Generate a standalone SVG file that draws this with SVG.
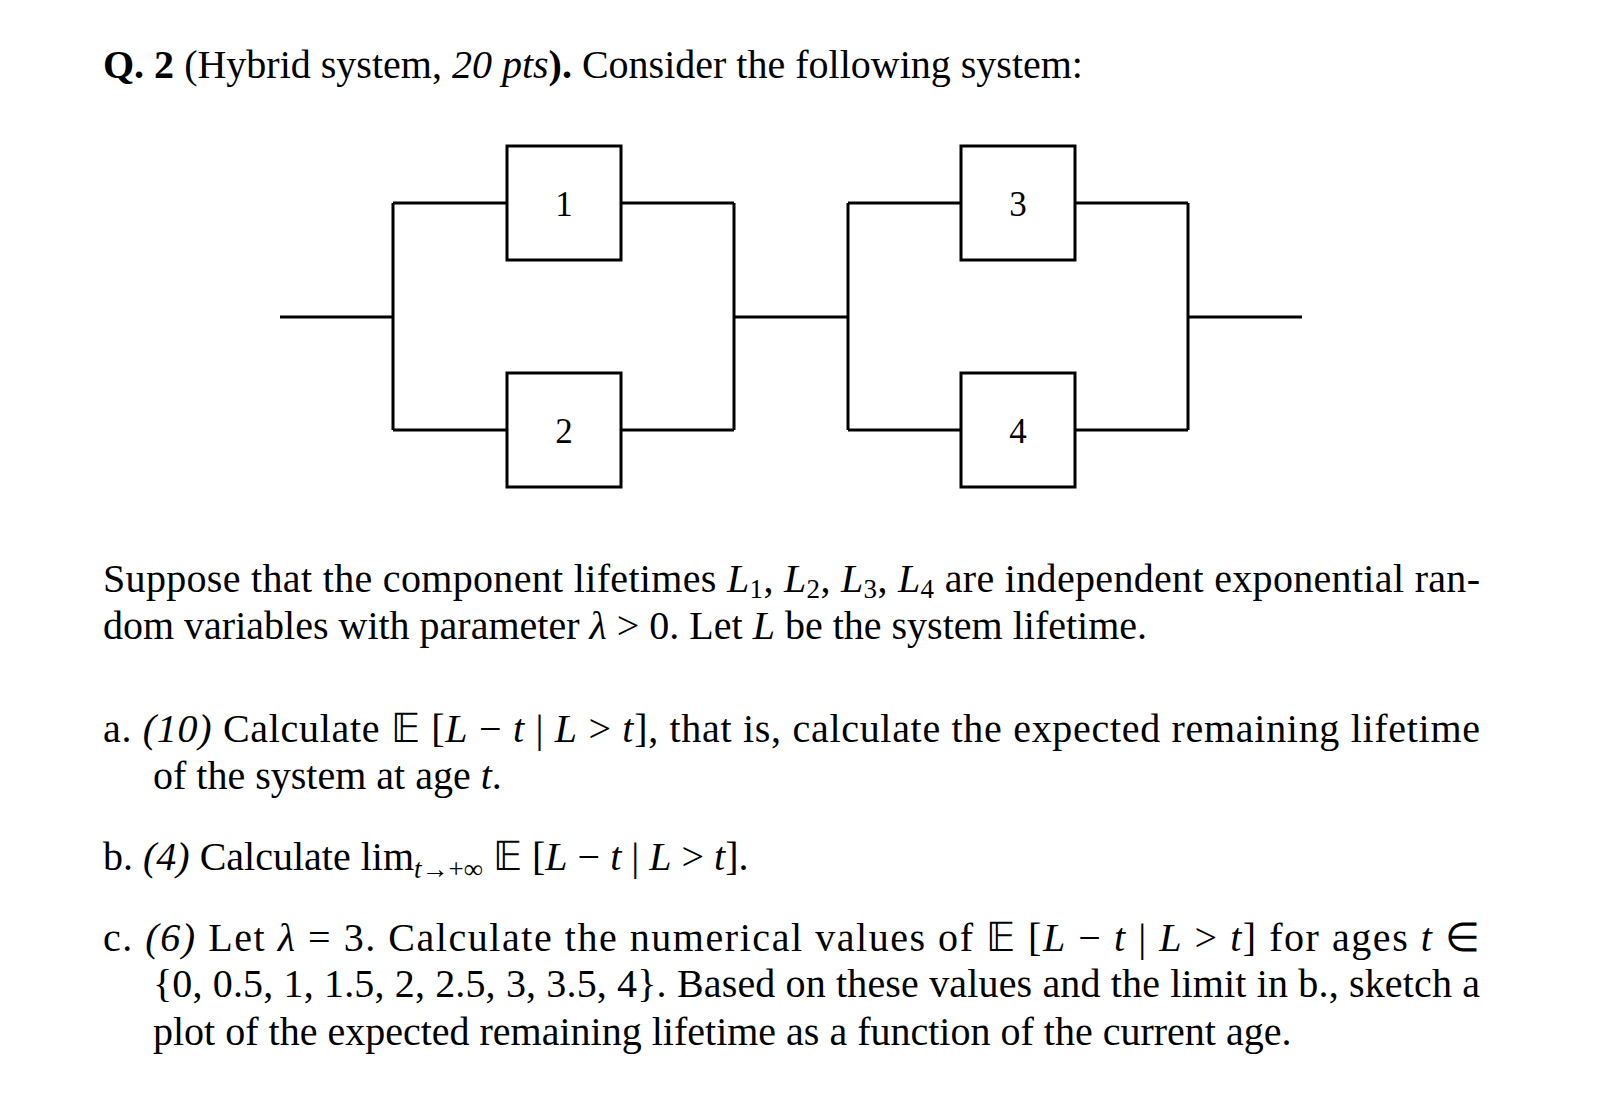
<svg xmlns="http://www.w3.org/2000/svg" width="1616" height="1110" viewBox="0 0 1616 1110">
<style>
text{font-family:"Liberation Serif","Times New Roman",serif;font-size:40px;fill:#000}
.i{font-style:italic}.b{font-weight:bold}.s{font-size:27px}
.box{fill:#fff;stroke:#000;stroke-width:3}
.w{fill:none;stroke:#000;stroke-width:3}
.n{font-size:35px;text-anchor:middle}
</style>
<rect width="1616" height="1110" fill="#fff"/>
<text x="103" y="78"><tspan class="b">Q. 2</tspan> (Hybrid system, <tspan class="i">20 pts</tspan><tspan class="b">).</tspan> Consider the following system:</text>
<g id="connectors">
<path class="w" d="M280 317H393M393 203V430M393 203H507M393 430H507M621 203H734M621 430H734M734 203V430M734 317H848M848 203V430M848 203H961M848 430H961M1075 203H1188M1075 430H1188M1188 203V430M1188 317H1302"/>
</g>
<g id="n1"><rect class="box" x="507" y="146" width="114" height="114"/><text class="n" x="564" y="216">1</text></g>
<g id="n2"><rect class="box" x="507" y="373" width="114" height="114"/><text class="n" x="564" y="443">2</text></g>
<g id="n3"><rect class="box" x="961" y="146" width="114" height="114"/><text class="n" x="1018" y="216">3</text></g>
<g id="n4"><rect class="box" x="961" y="373" width="114" height="114"/><text class="n" x="1018" y="443">4</text></g>
<text x="103" y="592" textLength="1377" lengthAdjust="spacing">Suppose that the component lifetimes <tspan class="i">L</tspan><tspan class="s" dy="6">1</tspan><tspan dy="-6">, </tspan><tspan class="i">L</tspan><tspan class="s" dy="6">2</tspan><tspan dy="-6">, </tspan><tspan class="i">L</tspan><tspan class="s" dy="6">3</tspan><tspan dy="-6">, </tspan><tspan class="i">L</tspan><tspan class="s" dy="6">4</tspan><tspan dy="-6"> are independent exponential ran-</tspan></text>
<text x="103" y="639">dom variables with parameter <tspan class="i">λ</tspan> &gt; 0. Let <tspan class="i">L</tspan> be the system lifetime.</text>
<text x="103" y="742" textLength="1377" lengthAdjust="spacing">a. <tspan class="i">(10)</tspan> Calculate 𝔼 [<tspan class="i">L</tspan> − <tspan class="i">t</tspan> | <tspan class="i">L</tspan> &gt; <tspan class="i">t</tspan>], that is, calculate the expected remaining lifetime</text>
<text x="153" y="789">of the system at age <tspan class="i">t</tspan>.</text>
<text x="103" y="870">b. <tspan class="i">(4)</tspan> Calculate lim<tspan class="s i" dy="8">t</tspan><tspan class="s">→+∞</tspan><tspan dy="-8"> 𝔼 [</tspan><tspan class="i">L</tspan> − <tspan class="i">t</tspan> | <tspan class="i">L</tspan> &gt; <tspan class="i">t</tspan>].</text>
<text x="103" y="951" textLength="1377" lengthAdjust="spacing">c. <tspan class="i">(6)</tspan> Let <tspan class="i">λ</tspan> = 3. Calculate the numerical values of 𝔼 [<tspan class="i">L</tspan> − <tspan class="i">t</tspan> | <tspan class="i">L</tspan> &gt; <tspan class="i">t</tspan>] for ages <tspan class="i">t</tspan> ∈</text>
<text x="153" y="997" textLength="1327" lengthAdjust="spacing">{0, 0.5, 1, 1.5, 2, 2.5, 3, 3.5, 4}. Based on these values and the limit in b., sketch a</text>
<text x="153" y="1045">plot of the expected remaining lifetime as a function of the current age.</text>
</svg>
